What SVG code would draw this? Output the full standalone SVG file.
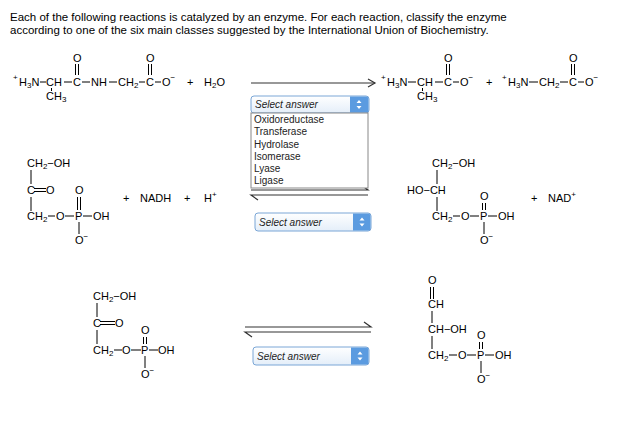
<svg xmlns="http://www.w3.org/2000/svg" width="636" height="436" viewBox="0 0 636 436">
<defs>
<style>
.t{font-family:"Liberation Sans",Arial,sans-serif;font-size:11px;fill:#000}
.s{font-size:8px}
.h{font-family:"Liberation Sans",Arial,sans-serif;font-size:11.5px;fill:#000}
.b{stroke:#000;stroke-width:1;fill:none}
.ar{stroke:#333;stroke-width:1.2;fill:none}
.dd{fill:url(#g);stroke:#7aa6d6;stroke-width:1}
.btn{fill:#5b9be0}
.sel{font-family:"Liberation Sans",Arial,sans-serif;font-size:10px;font-style:italic;fill:#222}
.li{font-family:"Liberation Sans",Arial,sans-serif;font-size:10px;fill:#222}
</style>
<linearGradient id="g" x1="0" y1="0" x2="0" y2="1"><stop offset="0" stop-color="#ffffff"/><stop offset="1" stop-color="#e4eef9"/></linearGradient>
<g id="spin"><path d="M-2.5,-1.5 L0,-4.5 L2.5,-1.5 Z M-2.5,1.5 L0,4.5 L2.5,1.5 Z" fill="#fff"/></g>
</defs>
<rect width="636" height="436" fill="#fff"/>
<text class="h" x="10" y="21">Each of the following reactions is catalyzed by an enzyme. For each reaction, classify the enzyme</text>
<text class="h" x="10" y="34">according to one of the six main classes suggested by the International Union of Biochemistry.</text>

<g id="r1-left">
<text class="t" x="13" y="80"><tspan class="s">+</tspan></text>
<text class="t" x="19" y="86">H<tspan class="s" dy="2">3</tspan><tspan dy="-2">N</tspan></text>
<line class="b" x1="40" y1="82" x2="46" y2="82"/>
<text class="t" x="46" y="86">CH</text>
<line class="b" x1="51.5" y1="88" x2="51.5" y2="91"/>
<text class="t" x="46" y="100">CH<tspan class="s" dy="2">3</tspan></text>
<line class="b" x1="64" y1="82" x2="72" y2="82"/>
<text class="t" x="73" y="86">C</text>
<text class="t" x="73" y="62">O</text>
<line class="b" x1="75.5" y1="64" x2="75.5" y2="75"/><line class="b" x1="78.5" y1="64" x2="78.5" y2="75"/>
<line class="b" x1="82" y1="82" x2="90" y2="82"/>
<text class="t" x="91" y="86">NH</text>
<line class="b" x1="109" y1="82" x2="117" y2="82"/>
<text class="t" x="118" y="86">CH<tspan class="s" dy="2">2</tspan></text>
<line class="b" x1="139" y1="82" x2="145" y2="82"/>
<text class="t" x="146" y="86">C</text>
<text class="t" x="146" y="62">O</text>
<line class="b" x1="148.5" y1="64" x2="148.5" y2="75"/><line class="b" x1="151.5" y1="64" x2="151.5" y2="75"/>
<line class="b" x1="155" y1="82" x2="161" y2="82"/>
<text class="t" x="162" y="86">O<tspan class="s" dy="-6">−</tspan></text>
<text class="t" x="187" y="86">+</text>
<text class="t" x="204" y="86">H<tspan class="s" dy="2">2</tspan><tspan dy="-2">O</tspan></text>
</g>

<g id="r1-right">
<text class="t" x="381" y="80"><tspan class="s">+</tspan></text>
<text class="t" x="387" y="86">H<tspan class="s" dy="2">3</tspan><tspan dy="-2">N</tspan></text>
<line class="b" x1="408" y1="82" x2="416" y2="82"/>
<text class="t" x="417" y="86">CH</text>
<line class="b" x1="422.5" y1="88" x2="422.5" y2="91"/>
<text class="t" x="417" y="100">CH<tspan class="s" dy="2">3</tspan></text>
<line class="b" x1="435" y1="82" x2="443" y2="82"/>
<text class="t" x="444" y="86">C</text>
<text class="t" x="444" y="62">O</text>
<line class="b" x1="446.5" y1="64" x2="446.5" y2="75"/><line class="b" x1="449.5" y1="64" x2="449.5" y2="75"/>
<line class="b" x1="453" y1="82" x2="459" y2="82"/>
<text class="t" x="460" y="86">O<tspan class="s" dy="-6">−</tspan></text>
<text class="t" x="486" y="86">+</text>
<text class="t" x="502" y="80"><tspan class="s">+</tspan></text>
<text class="t" x="508" y="86">H<tspan class="s" dy="2">3</tspan><tspan dy="-2">N</tspan></text>
<line class="b" x1="529" y1="82" x2="538" y2="82"/>
<text class="t" x="539" y="86">CH<tspan class="s" dy="2">2</tspan></text>
<line class="b" x1="560" y1="82" x2="568" y2="82"/>
<text class="t" x="569" y="86">C</text>
<text class="t" x="569" y="62">O</text>
<line class="b" x1="571.5" y1="64" x2="571.5" y2="75"/><line class="b" x1="574.5" y1="64" x2="574.5" y2="75"/>
<line class="b" x1="578" y1="82" x2="584" y2="82"/>
<text class="t" x="585" y="86">O<tspan class="s" dy="-6">−</tspan></text>
</g>

<g id="r2-left">
<text class="t" x="27" y="167">CH<tspan class="s" dy="2">2</tspan><tspan dy="-2">−OH</tspan></text>
<line class="b" x1="31" y1="170" x2="31" y2="184"/>
<text class="t" x="27" y="194">C</text>
<line class="b" x1="34" y1="188.5" x2="46" y2="188.5"/><line class="b" x1="34" y1="191.5" x2="46" y2="191.5"/>
<text class="t" x="46" y="194">O</text>
<line class="b" x1="31" y1="197" x2="31" y2="211"/>
<text class="t" x="27" y="220">CH<tspan class="s" dy="2">2</tspan></text>
<line class="b" x1="48" y1="216" x2="55" y2="216"/>
<text class="t" x="56" y="220">O</text>
<line class="b" x1="65" y1="216" x2="74" y2="216"/>
<text class="t" x="75" y="220">P</text>
<text class="t" x="75" y="194">O</text>
<line class="b" x1="77.5" y1="197" x2="77.5" y2="210"/><line class="b" x1="80.5" y1="197" x2="80.5" y2="210"/>
<line class="b" x1="83" y1="216" x2="92" y2="216"/>
<text class="t" x="93" y="220">OH</text>
<line class="b" x1="79" y1="222" x2="79" y2="234"/>
<text class="t" x="75" y="244">O<tspan class="s" dy="-5">−</tspan></text>
<text class="t" x="123" y="202">+</text>
<text class="t" x="140" y="202">NADH</text>
<text class="t" x="184" y="202">+</text>
<text class="t" x="204" y="202">H<tspan class="s" dy="-5">+</tspan></text>
</g>

<g id="r2-right">
<text class="t" x="432" y="167">CH<tspan class="s" dy="2">2</tspan><tspan dy="-2">−OH</tspan></text>
<line class="b" x1="437" y1="170" x2="437" y2="184"/>
<text class="t" x="407" y="194">HO−CH</text>
<line class="b" x1="437" y1="197" x2="437" y2="211"/>
<text class="t" x="432" y="220">CH<tspan class="s" dy="2">2</tspan></text>
<line class="b" x1="453" y1="216" x2="460" y2="216"/>
<text class="t" x="461" y="220">O</text>
<line class="b" x1="470" y1="216" x2="479" y2="216"/>
<text class="t" x="480" y="220">P</text>
<text class="t" x="480" y="200">O</text>
<line class="b" x1="482.5" y1="203" x2="482.5" y2="210"/><line class="b" x1="485.5" y1="203" x2="485.5" y2="210"/>
<line class="b" x1="488" y1="216" x2="497" y2="216"/>
<text class="t" x="498" y="220">OH</text>
<line class="b" x1="484" y1="222" x2="484" y2="234"/>
<text class="t" x="480" y="244">O<tspan class="s" dy="-5">−</tspan></text>
<text class="t" x="531" y="202">+</text>
<text class="t" x="548" y="202">NAD<tspan class="s" dy="-5">+</tspan></text>
</g>

<g id="r3-left">
<text class="t" x="93" y="300">CH<tspan class="s" dy="2">2</tspan><tspan dy="-2">−OH</tspan></text>
<line class="b" x1="97" y1="303" x2="97" y2="317"/>
<text class="t" x="93" y="327">C</text>
<line class="b" x1="100" y1="321.5" x2="115" y2="321.5"/><line class="b" x1="100" y1="324.5" x2="115" y2="324.5"/>
<text class="t" x="115" y="327">O</text>
<line class="b" x1="97" y1="330" x2="97" y2="344"/>
<text class="t" x="93" y="354">CH<tspan class="s" dy="2">2</tspan></text>
<line class="b" x1="114" y1="350" x2="122" y2="350"/>
<text class="t" x="122" y="354">O</text>
<line class="b" x1="131" y1="350" x2="141" y2="350"/>
<text class="t" x="141" y="354">P</text>
<text class="t" x="141" y="334">O</text>
<line class="b" x1="143.5" y1="337" x2="143.5" y2="344"/><line class="b" x1="146.5" y1="337" x2="146.5" y2="344"/>
<line class="b" x1="149" y1="350" x2="158" y2="350"/>
<text class="t" x="158" y="354">OH</text>
<line class="b" x1="145" y1="356" x2="145" y2="368"/>
<text class="t" x="141" y="378">O<tspan class="s" dy="-5">−</tspan></text>
</g>

<g id="r3-right">
<text class="t" x="428" y="284">O</text>
<line class="b" x1="430.5" y1="287" x2="430.5" y2="299"/><line class="b" x1="433.5" y1="287" x2="433.5" y2="299"/>
<text class="t" x="428" y="308">CH</text>
<line class="b" x1="432" y1="311" x2="432" y2="323"/>
<text class="t" x="428" y="333">CH−OH</text>
<line class="b" x1="432" y1="336" x2="432" y2="349"/>
<text class="t" x="428" y="359">CH<tspan class="s" dy="2">2</tspan></text>
<line class="b" x1="449" y1="355" x2="457" y2="355"/>
<text class="t" x="458" y="359">O</text>
<line class="b" x1="467" y1="355" x2="476" y2="355"/>
<text class="t" x="477" y="359">P</text>
<text class="t" x="477" y="339">O</text>
<line class="b" x1="479.5" y1="342" x2="479.5" y2="349"/><line class="b" x1="482.5" y1="342" x2="482.5" y2="349"/>
<line class="b" x1="485" y1="355" x2="494" y2="355"/>
<text class="t" x="495" y="359">OH</text>
<line class="b" x1="481" y1="361" x2="481" y2="373"/>
<text class="t" x="477" y="383">O<tspan class="s" dy="-5">−</tspan></text>
</g>

<g id="connectors">
<line class="ar" x1="251" y1="83" x2="375" y2="83"/>
<path class="ar" d="M368,79 L375,83 L368,87"/>
<path class="ar" d="M251,190 L368,190 L361,185"/>
<path class="ar" d="M368,195 L251,195 L258,200"/>
<path class="ar" d="M245,327 L371,327 L364,322"/>
<path class="ar" d="M371,332 L245,332 L252,337"/>
</g>

<g id="dropdown1">
<rect class="dd" x="251" y="96" width="118" height="17" rx="3"/>
<path class="btn" d="M350,96.5 H366 A2.5,2.5 0 0 1 368.5,99 V110 A2.5,2.5 0 0 1 366,112.5 H350 Z"/>
<use href="#spin" x="359" y="104.5"/>
<text class="sel" x="255" y="108">Select answer</text>
<rect x="251" y="113" width="117" height="75" fill="#fff" stroke="#888" stroke-width="1"/>
<text class="li" x="254" y="123">Oxidoreductase</text>
<text class="li" x="254" y="135">Transferase</text>
<text class="li" x="254" y="148">Hydrolase</text>
<text class="li" x="254" y="160">Isomerase</text>
<text class="li" x="254" y="172">Lyase</text>
<text class="li" x="254" y="184">Ligase</text>
</g>
<g id="dropdown2">
<rect class="dd" x="255" y="213" width="116" height="18" rx="3"/>
<path class="btn" d="M353,213.5 H368 A2.5,2.5 0 0 1 370.5,216 V228 A2.5,2.5 0 0 1 368,230.5 H353 Z"/>
<use href="#spin" x="362" y="222"/>
<text class="sel" x="259" y="226">Select answer</text>
</g>
<g id="dropdown3">
<rect class="dd" x="253" y="347" width="116" height="18" rx="3"/>
<path class="btn" d="M351,347.5 H366 A2.5,2.5 0 0 1 368.5,350 V362 A2.5,2.5 0 0 1 366,364.5 H351 Z"/>
<use href="#spin" x="360" y="356"/>
<text class="sel" x="257" y="360">Select answer</text>
</g>
</svg>
